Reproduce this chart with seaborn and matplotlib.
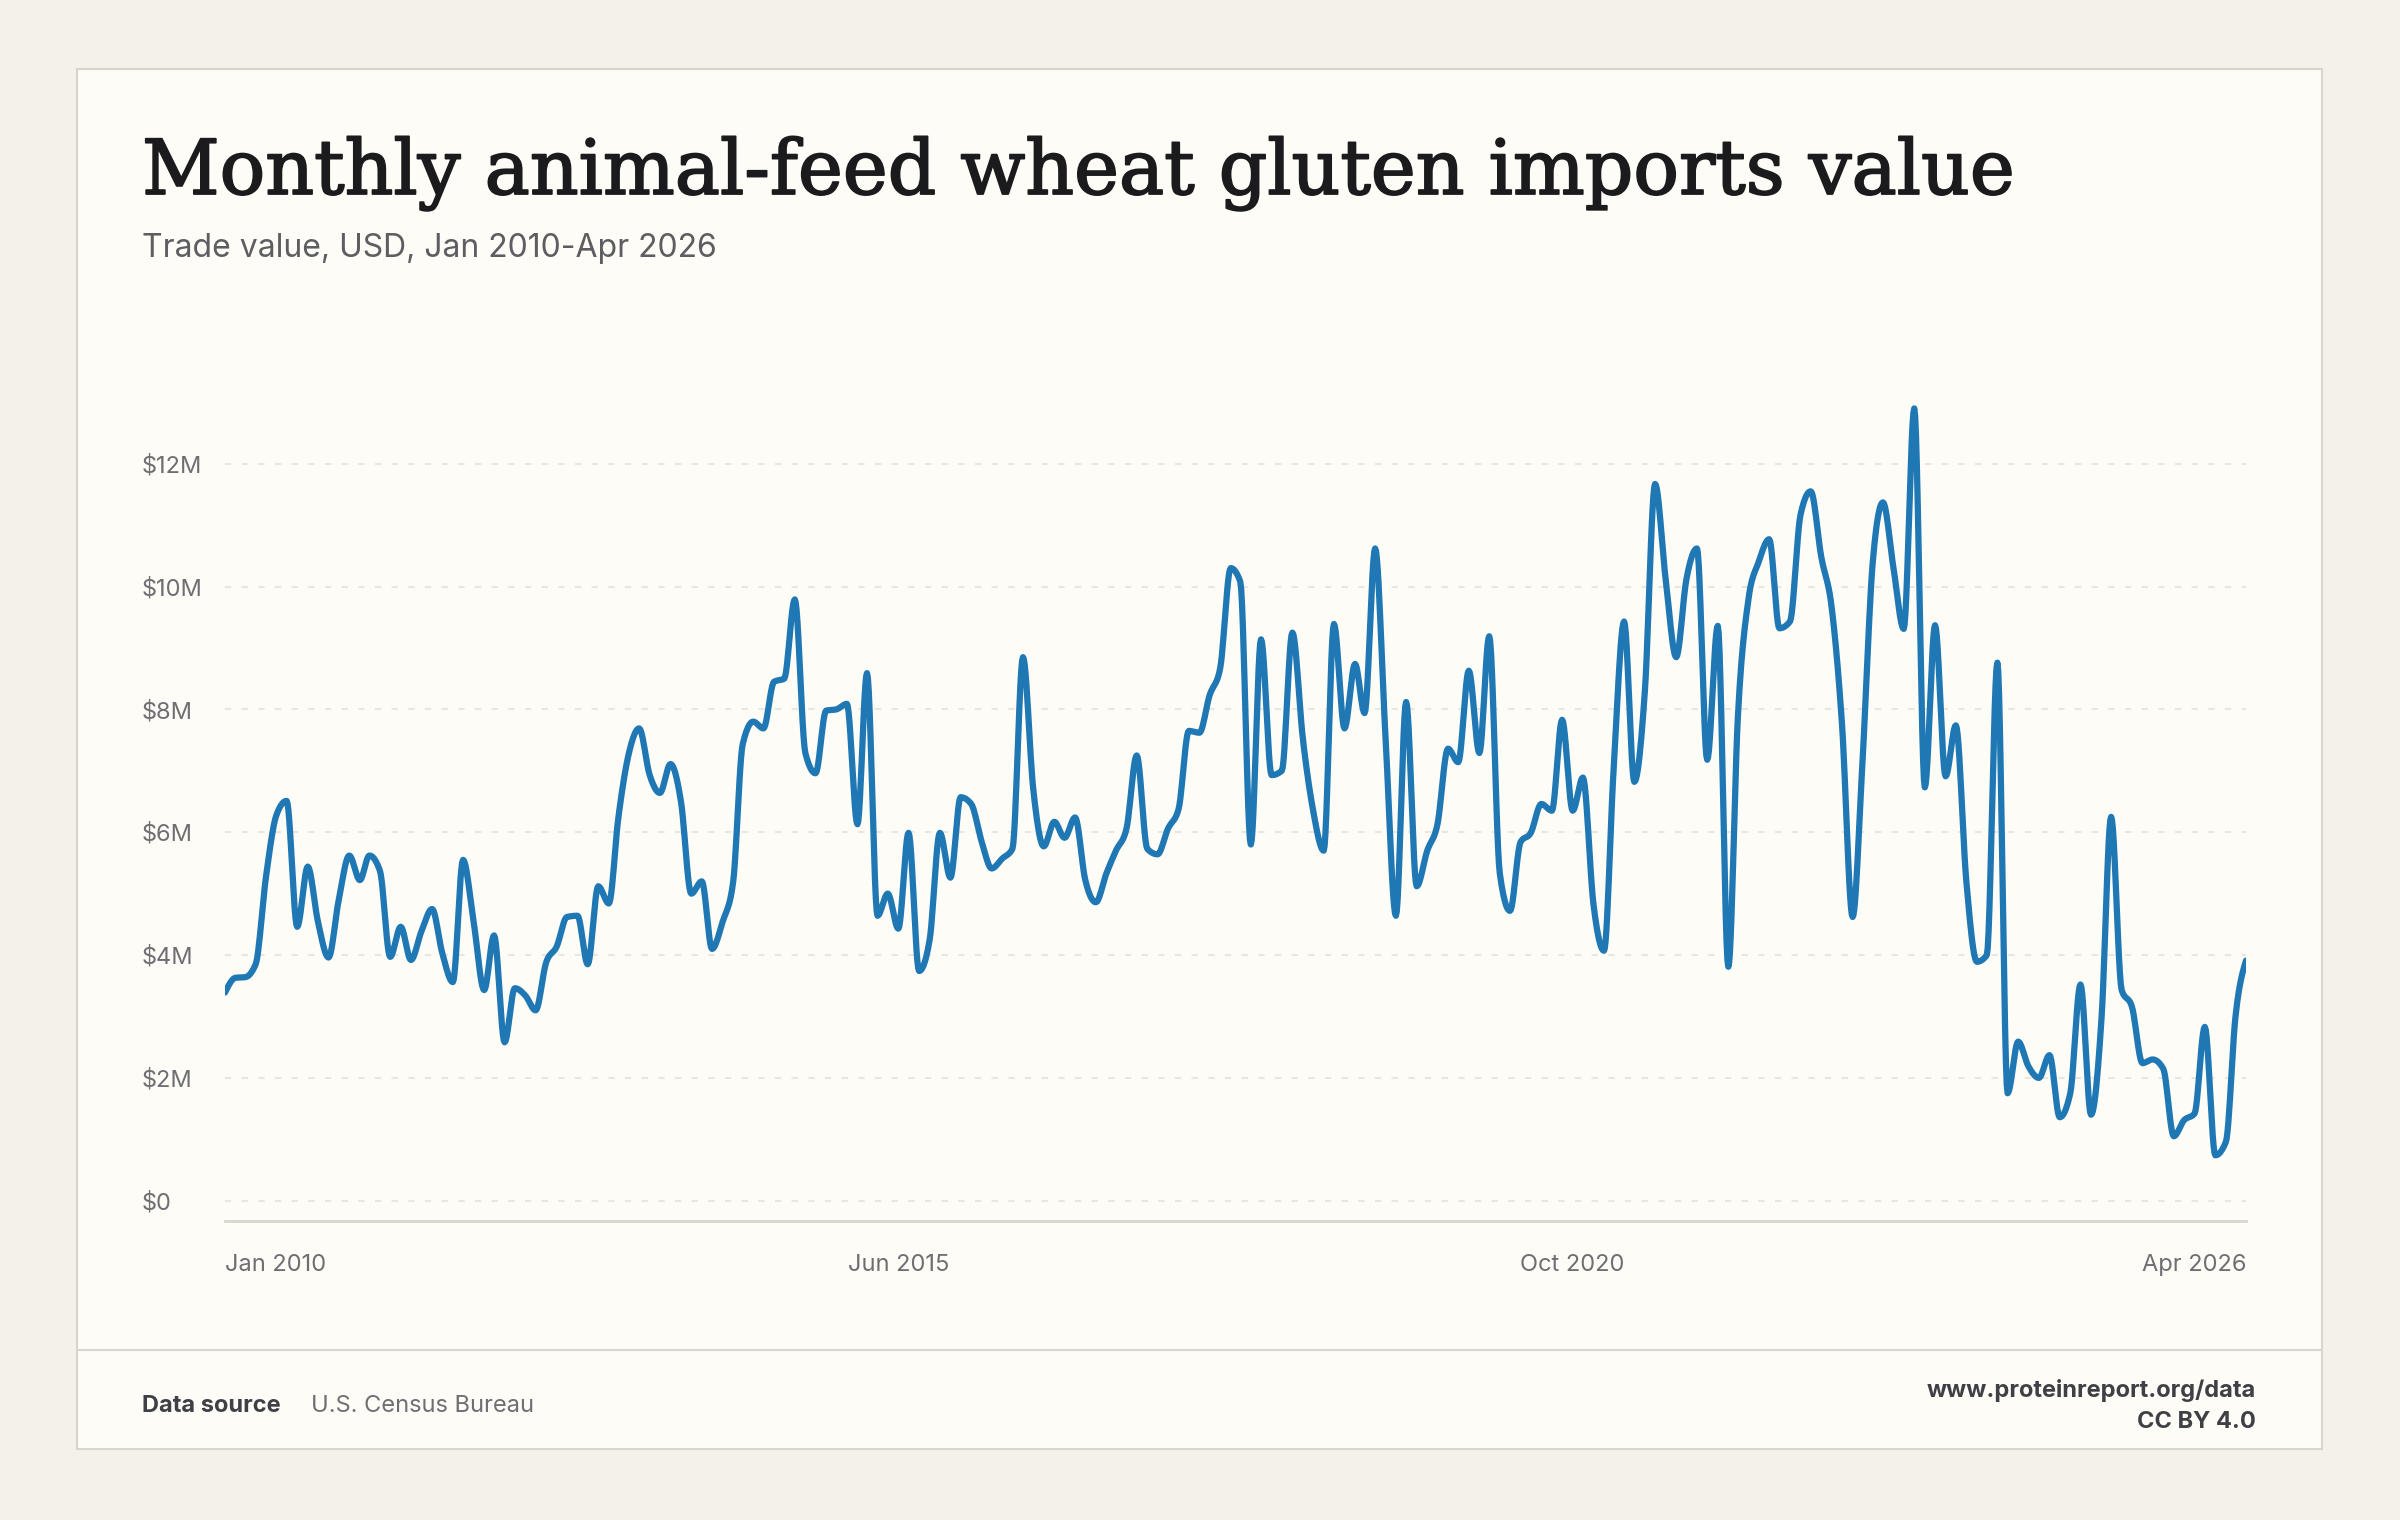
import numpy as np
import pandas as pd
import matplotlib
matplotlib.use("Agg")
import matplotlib.pyplot as plt
import matplotlib.dates as mdates
import matplotlib.patheffects as pe
from matplotlib.patches import Rectangle
from matplotlib.ticker import FuncFormatter
import seaborn as sns

# monthly trade value, millions of USD, Jan 2010 .. Apr 2026
values_musd = [
    3.39, 3.63, 3.64, 3.85, 5.26, 6.28, 6.51, 4.46, 5.44, 4.54, 3.96, 4.90,
    5.62, 5.22, 5.62, 5.37, 3.97, 4.46, 3.92, 4.39, 4.75, 4.03, 3.56, 5.55,
    4.54, 3.43, 4.32, 2.58, 3.46, 3.34, 3.10, 3.88, 4.14, 4.62, 4.64, 3.85,
    5.12, 4.84, 6.24, 7.29, 7.69, 6.93, 6.64, 7.11, 6.49, 5.00, 5.20, 4.10,
    4.54, 5.19, 7.43, 7.80, 7.69, 8.45, 8.50, 9.79, 7.29, 6.96, 7.98, 8.00,
    8.09, 6.13, 8.59, 4.64, 5.00, 4.43, 5.99, 3.74, 4.25, 5.99, 5.26, 6.57,
    6.46, 5.84, 5.41, 5.57, 5.73, 8.85, 6.71, 5.77, 6.17, 5.91, 6.24, 5.22,
    4.86, 5.33, 5.70, 6.06, 7.25, 5.73, 5.64, 6.06, 6.38, 7.65, 7.62, 8.23,
    8.67, 10.30, 10.08, 5.80, 9.14, 6.93, 7.00, 9.25, 7.51, 6.35, 5.70, 9.39,
    7.69, 8.74, 7.94, 10.62, 7.60, 4.64, 8.12, 5.12, 5.70, 6.13, 7.36, 7.14,
    8.63, 7.29, 9.19, 5.33, 4.72, 5.84, 5.99, 6.46, 6.35, 7.83, 6.35, 6.89,
    4.83, 4.07, 7.00, 9.43, 6.82, 8.30, 11.67, 10.12, 8.85, 10.12, 10.62, 7.18,
    9.36, 3.81, 7.87, 9.79, 10.40, 10.77, 9.32, 9.43, 11.17, 11.55, 10.48, 9.68,
    7.74, 4.62, 7.04, 10.39, 11.37, 10.30, 9.31, 12.90, 6.73, 9.37, 6.91, 7.74,
    5.19, 3.89, 4.00, 8.76, 1.75, 2.59, 2.19, 2.00, 2.37, 1.36, 1.75, 3.52,
    1.40, 2.99, 6.25, 3.43, 3.16, 2.24, 2.30, 2.15, 1.05, 1.31, 1.42, 2.83,
    0.74, 0.96, 2.99, 3.91,
]
months = pd.date_range("2010-01-01", periods=len(values_musd), freq="MS")

# four ticks evenly spaced in time over the range
x_tick_labels = ["Jan 2010", "Jun 2015", "Oct 2020", "Apr 2026"]
y_ticks = [0, 2, 4, 6, 8, 10, 12]

BG = "#F4F1EA"
CARD = "#FDFCF7"
EDGE = "#D8D5CC"
LINE = "#1F77B4"
DARK = "#1B1B1D"
GREY = "#5E5E62"
LIGHT = "#6E6E73"


def monotone_smooth(x, y, per_seg=12):
    # monotone cubic (Steffen), no overshoot between months
    x = np.asarray(x, float)
    y = np.asarray(y, float)
    h = np.diff(x)
    s = np.diff(y) / h
    m = np.zeros_like(y)
    for i in range(1, len(y) - 1):
        p = (s[i - 1] * h[i] + s[i] * h[i - 1]) / (h[i - 1] + h[i])
        m[i] = (np.sign(s[i - 1]) + np.sign(s[i])) * min(abs(s[i - 1]), abs(s[i]), 0.5 * abs(p))
    m[0] = (3 * s[0] - m[1]) / 2
    m[-1] = (3 * s[-1] - m[-2]) / 2
    xs, ys = [], []
    for i in range(len(h)):
        t = np.linspace(0, 1, per_seg, endpoint=False)
        h00 = 2 * t**3 - 3 * t**2 + 1
        h10 = t**3 - 2 * t**2 + t
        h01 = -2 * t**3 + 3 * t**2
        h11 = t**3 - t**2
        xs.append(x[i] + t * h[i])
        ys.append(h00 * y[i] + h10 * h[i] * m[i] + h01 * y[i + 1] + h11 * h[i] * m[i + 1])
    xs.append([x[-1]])
    ys.append([y[-1]])
    return np.concatenate(xs), np.concatenate(ys)


xnum = mdates.date2num(months)
xs, ys = monotone_smooth(xnum, values_musd)
df = pd.DataFrame({"date": mdates.num2date(xs), "value": ys})

sns.set_theme(style="white")
plt.rcParams["font.family"] = ["Inter", "DejaVu Sans"]

fig = plt.figure(figsize=(24, 15.2), dpi=100, facecolor=BG)

# card + footer separator (behind the axes)
fig.patches.append(Rectangle((77 / 2400, 1 - 1449 / 1520), (2322 - 77) / 2400, (1449 - 69) / 1520,
                             transform=fig.transFigure, facecolor=CARD, edgecolor=EDGE, lw=1.5,
                             zorder=-5))
fig.add_artist(plt.Line2D([77 / 2400, 2322 / 2400], [1 - 1350 / 1520] * 2,
                          transform=fig.transFigure, color=EDGE, lw=1.5, zorder=-4))

ax = fig.add_axes([225 / 2400, 1 - 1221 / 1520, (2246 - 225) / 2400, (1221 - 390) / 1520])
ax.set_facecolor("none")
ax.set_zorder(2)

sns.lineplot(data=df, x="date", y="value", color=LINE, linewidth=4.5, ax=ax,
             solid_capstyle="round", solid_joinstyle="round")

ax.set_xlim(months[0], months[-1])
ax.set_ylim(-0.33, 13.2)
ax.set_xlabel("")
ax.set_ylabel("")

ax.set_yticks(y_ticks)
ax.yaxis.set_major_formatter(FuncFormatter(lambda v, p: "$0" if v == 0 else f"${int(v)}M"))
ax.tick_params(axis="y", length=0, pad=60, labelsize=17, labelcolor=LIGHT)
for lab in ax.get_yticklabels():
    lab.set_ha("left")
ax.yaxis.grid(True, color="#E9E6DE", linestyle=(0, (3, 5)), linewidth=1.5)

ax.set_xticks(np.linspace(xnum[0], xnum[-1], len(x_tick_labels)))
ax.set_xticklabels(x_tick_labels)
ax.tick_params(axis="x", length=8, width=1.2, color=EDGE, pad=16, labelsize=17, labelcolor=LIGHT)
xl = ax.get_xticklabels()
xl[0].set_ha("left")
xl[-1].set_ha("right")

for side in ["left", "right", "top"]:
    ax.spines[side].set_visible(False)
ax.spines["bottom"].set_color(EDGE)
ax.spines["bottom"].set_linewidth(2)

title = fig.text(142 / 2400, 1 - 194 / 1520, "Monthly animal-feed wheat gluten imports value",
                 family="DejaVu Serif", fontsize=52, color=DARK, va="baseline",
                 path_effects=[pe.withStroke(linewidth=1.3, foreground=DARK)])
# fit title width to the reference (about 1875 px)
fig.canvas.draw()
w = title.get_window_extent().width
title.set_fontsize(52 * 1875 / w)

fig.text(142 / 2400, 1 - 257 / 1520, "Trade value, USD, Jan 2010-Apr 2026",
         fontsize=23, color=GREY, va="baseline")

fig.text(142 / 2400, 1 - 1406 / 1520, "Data source", fontsize=17, fontweight="bold",
         color="#3F3F46", va="center")
fig.text(311 / 2400, 1 - 1406 / 1520, "U.S. Census Bureau", fontsize=17, color=LIGHT, va="center")
fig.text(2256 / 2400, 1 - 1391 / 1520, "www.proteinreport.org/data", fontsize=17, fontweight="bold",
         color="#3F3F46", va="center", ha="right")
fig.text(2256 / 2400, 1 - 1422 / 1520, "CC BY 4.0", fontsize=17, fontweight="bold",
         color="#3F3F46", va="center", ha="right")

fig.savefig("out.png", dpi=100, facecolor=BG)
